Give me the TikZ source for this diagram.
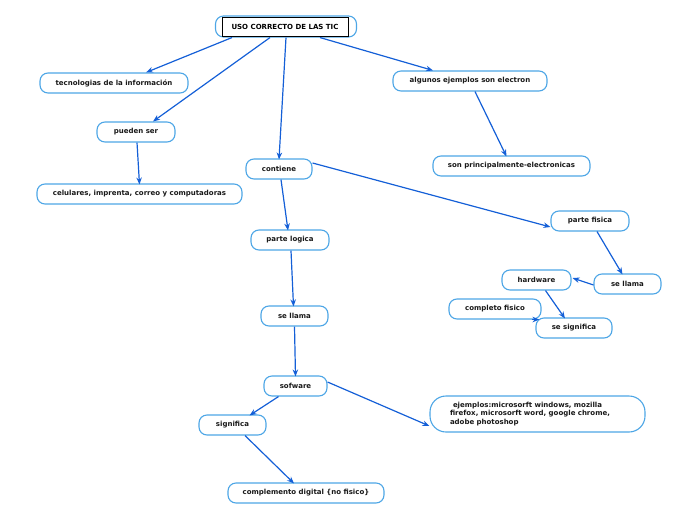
\documentclass[tikz,border=0pt]{standalone}
\usepackage{fontspec}
\setmainfont{DejaVu Sans}
\usetikzlibrary{arrows.meta}
\definecolor{boxc}{RGB}{77,166,230}
\definecolor{arrc}{RGB}{20,95,215}
\tikzset{
  box/.style={draw=boxc, line width=1.1pt, rounded corners=8pt, minimum height=20pt,
    inner sep=0pt, fill=white, font=\fontsize{7}{8.5}\selectfont\bfseries, text=black!90},
  arr/.style={-{Stealth[length=7pt,width=5.5pt]}, draw=arrc, line width=1.2pt},
}
\begin{document}
\begin{tikzpicture}[x=1pt,y=-1pt]
\useasboundingbox (0,0) rectangle (697,520);
% nodes
\node[box, minimum width=141pt, minimum height=21pt] (top) at (286,26.5) {};
\node[draw=black, line width=0.8pt, minimum width=126pt, minimum height=19pt, inner sep=0pt,
  font=\fontsize{7}{8.5}\selectfont\bfseries] (topin) at (285,26.5) {USO CORRECTO DE LAS TIC};
\node[box, minimum width=148pt] (tec) at (114,83) {tecnologias de la información};
\node[box, minimum width=78pt] (pue) at (136,132) {pueden ser};
\node[box, minimum width=205pt] (cel) at (139.5,194) {celulares, imprenta, correo y computadoras};
\node[box, minimum width=154pt] (alg) at (470,81) {algunos ejemplos son electron};
\node[box, minimum width=157pt] (spe) at (511.5,166) {son principalmente-electronicas};
\node[box, minimum width=66pt] (con) at (279,169) {contiene};
\node[box, minimum width=78pt] (plo) at (290,240) {parte logica};
\node[box, minimum width=67pt] (sll) at (294.5,316) {se llama};
\node[box, minimum width=63pt] (sof) at (295.5,386) {sofware};
\node[box, minimum width=67pt] (sig) at (232.5,425) {significa};
\node[box, minimum width=156pt] (com) at (306,493) {complemento digital \{no fisico\}};
\node[box, minimum height=36pt, rounded corners=16pt, text width=175pt, inner xsep=20pt,
  align=left] (eje) at (537.5,414)
  {\hspace{3pt}ejemplos:microsorft windows, mozilla\\firefox, microsorft word, google chrome,\\adobe photoshop};
\node[box, minimum width=78pt] (pfi) at (590,221) {parte fisica};
\node[box, minimum width=67pt] (slr) at (627.5,284) {se llama};
\node[box, minimum width=69pt] (har) at (536.5,280) {hardware};
\node[box, minimum width=92pt] (cfi) at (495,309) {completo fisico};
\node[box, minimum width=76pt] (ssi) at (574,328) {se significa};
% connectors
\draw[arr] ([xshift=-54pt]top.south) -- ([xshift=32pt]tec.north);
\draw[arr] ([xshift=-16pt]top.south) -- ([xshift=17pt]pue.north);
\draw[arr] (top.south) -- ([xshift=0pt,yshift=-1pt]con.north);
\draw[arr] ([xshift=34pt]top.south) -- ([xshift=-37pt]alg.north);
\draw[arr] ([xshift=1pt]pue.south) -- ([yshift=-1pt]cel.north);
\draw[arr] ([xshift=5pt]alg.south) -- ([xshift=-5pt,yshift=-1pt]spe.north);
\draw[arr] ([xshift=2pt]con.south) -- ([xshift=-2pt,yshift=-1pt]plo.north);
\draw[arr] ([yshift=6pt]con.east) -- ([yshift=-6pt]pfi.west);
\draw[arr] ([xshift=1pt]plo.south) -- ([xshift=-1pt,yshift=-1pt]sll.north);
\draw[arr] (sll.south) -- ([yshift=-1pt]sof.north);
\draw[arr] ([xshift=-17pt]sof.south) -- ([xshift=17pt,yshift=-1pt]sig.north);
\draw[arr] ([yshift=4pt]sof.east) -- ([yshift=-12pt]eje.west);
\draw[arr] ([xshift=12.5pt]sig.south) -- ([xshift=-12pt,yshift=-1pt]com.north);
\draw[arr] ([xshift=7pt]pfi.south) -- ([xshift=-5pt,yshift=-1pt]slr.north);
\draw[arr] ([yshift=-1pt]slr.west) -- ([xshift=1pt,yshift=2pt]har.east);
\draw[arr] ([xshift=9pt]har.south) -- ([xshift=-9pt,yshift=-1pt]ssi.north);
\draw[arr] ([xshift=-10pt]cfi.south east) -- ([xshift=4pt]ssi.west |- cfi.south east);
\end{tikzpicture}
\end{document}
